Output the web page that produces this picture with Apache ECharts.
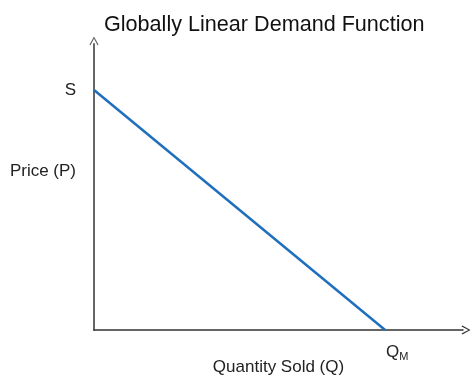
<!DOCTYPE html>
<html>
<head>
<meta charset="utf-8">
<script src="https://cdn.jsdelivr.net/npm/echarts@6/dist/echarts.min.js"></script>
<style>html,body{margin:0;padding:0;background:#fff}#c{width:474px;height:387px}</style>
</head>
<body>
<div id="c"></div>
<script>
var quantities = [0, 78.9];
var prices = [83.9, 0];
var pointLabels = ['S', 'QM'];
var titleText = 'Globally Linear Demand Function';
var xName = 'Quantity Sold (Q)';
var yName = 'Price (P)';

var chevron = 'path://M0,9 L5,0 L10,9 L9,10 L5,2.4 L1,10 Z';
var font = 'Liberation Sans, Arial, sans-serif';

var chart = echarts.init(document.getElementById('c'), null, {renderer: 'canvas'});
chart.setOption({
  animation: false,
  backgroundColor: '#fff',
  title: {
    text: titleText, left: 99, top: 9,
    textStyle: {fontFamily: font, fontSize: 21.6, fontWeight: 'normal', color: '#111'}
  },
  grid: {left: 94, right: 11, top: 44, bottom: 57, containLabel: false},
  xAxis: {
    type: 'value', min: 0, max: 100,
    name: xName, nameLocation: 'middle', nameGap: 29,
    nameTextStyle: {fontFamily: font, fontSize: 17, color: '#222'},
    axisLine: {show: true, symbol: ['none', chevron], symbolSize: [10, 9], symbolOffset: [0, 3],
      lineStyle: {color: '#333', width: 1.5}},
    axisTick: {show: false}, axisLabel: {show: false}, splitLine: {show: false}
  },
  yAxis: {
    type: 'value', min: 0, max: 100,
    name: yName, nameLocation: 'middle', nameGap: 18, nameRotate: 0,
    nameTextStyle: {fontFamily: font, fontSize: 17, color: '#222', align: 'right',
      verticalAlign: 'bottom', padding: [0, 0, 7, 0]},
    axisLine: {show: true, symbol: ['none', chevron], symbolSize: [10, 9], symbolOffset: [0, 3],
      lineStyle: {color: '#666', width: 2}},
    axisTick: {show: false}, axisLabel: {show: false}, splitLine: {show: false}
  },
  series: [{
    type: 'line',
    data: quantities.map(function (q, i) { return [q, prices[i]]; }),
    symbol: 'none',
    lineStyle: {color: '#1f6fbd', width: 2.5},
    label: {show: false},
    markPoint: {
      symbol: 'circle', symbolSize: 0,
      data: [
        {coord: [quantities[0], prices[0]], value: pointLabels[0],
          label: {show: true, position: 'left', distance: 18, formatter: pointLabels[0],
            fontFamily: font, fontSize: 17, color: '#222'}},
        {coord: [quantities[1], prices[1]], value: pointLabels[1],
          label: {show: true, position: 'bottom', distance: 13, offset: [12, 0],
            formatter: '{q|Q}{m|M}',
            rich: {
              q: {fontFamily: font, fontSize: 17, color: '#222'},
              m: {fontFamily: font, fontSize: 11, color: '#222', padding: [8, 0, 0, 0]}
            }}}
      ]
    }
  }]
});
</script>
</body>
</html>
